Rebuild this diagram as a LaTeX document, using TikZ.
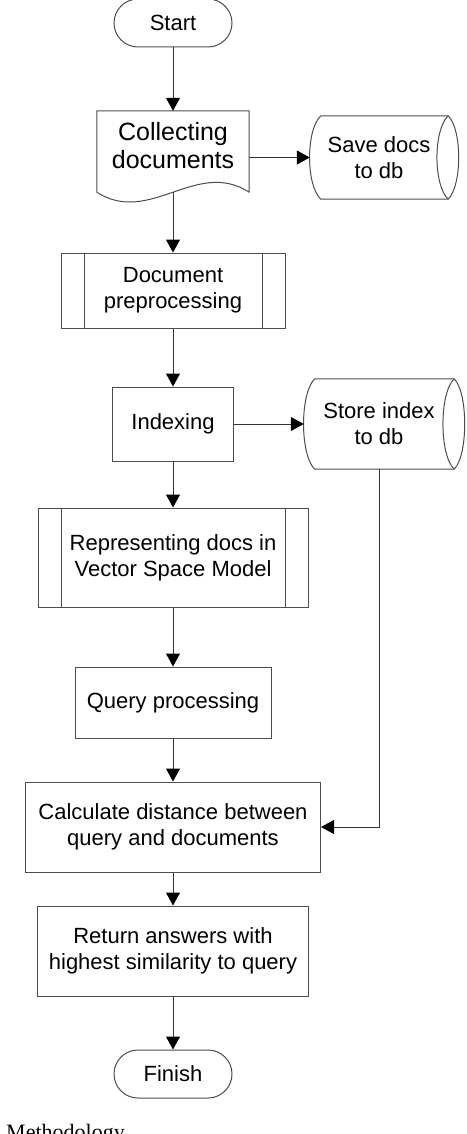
\documentclass[tikz,border=0pt]{standalone}
\usepackage{fontspec}
\setmainfont{Liberation Sans}
\newfontfamily\capfont{Liberation Serif}
\usetikzlibrary{arrows.meta}
\tikzstyle{every node}=[font=\fontsize{22}{26}\selectfont]
\tikzstyle{block}=[shape=rectangle,draw=black!70,line width=1pt,inner sep=0pt,align=center]
\tikzstyle{terminal}=[block,rounded corners=24pt,minimum width=118pt,minimum height=48pt]
\tikzstyle{plain}=[shape=rectangle,inner sep=0pt,align=center]
\tikzstyle{outline}=[draw=black!70,line width=1pt]
\tikzstyle{flow}=[draw=black!80,line width=1pt,-{Triangle[length=13pt,width=14pt,color=black,fill=black]}]

\begin{document}
\begin{tikzpicture}[x=1pt,y=-1pt]
		\useasboundingbox (0,0) rectangle (466,1134);

		% terminals
		\node[terminal] (start) at (173,23) {Start};
		\node[terminal] (finish) at (173,1074) {Finish};

		% process boxes
		\node[block,minimum width=224pt,minimum height=75pt] (prep) at (173,290.5) {Document\\preprocessing};
		\node[block,minimum width=121pt,minimum height=74pt] (index) at (173,424) {Indexing};
		\node[block,minimum width=270pt,minimum height=99pt] (vsm) at (173,557.5) {Representing docs in\\Vector Space Model};
		\node[block,minimum width=196pt,minimum height=71pt] (query) at (173,702.5) {Query processing};
		\node[block,minimum width=295pt,minimum height=90pt] (calc) at (173,827) {Calculate distance between\\query and documents};
		\node[block,minimum width=271pt,minimum height=90pt] (answer) at (173,951) {Return answers with\\highest similarity to query};

		% predefined process bars
		\foreach \p in {prep,vsm}{
			\draw[outline] ([xshift=24pt]\p.north west) -- ([xshift=24pt]\p.south west);
			\draw[outline] ([xshift=-23pt]\p.north east) -- ([xshift=-23pt]\p.south east);
		}

		% document
		\node[plain,font=\fontsize{25}{28}\selectfont,minimum width=152pt,minimum height=70pt] (collect) at (173,146) {Collecting\\documents};
		\draw[outline] ([yshift=-11pt]collect.south west) -- (collect.north west) -- (collect.north east)
			-- ([yshift=-11pt]collect.south east) .. controls +(-53,-34) and +(53,34) .. ([yshift=-11pt]collect.south west);
		\coordinate (collect-b) at ([yshift=-11pt]collect.south);

		% stored data
		\node[plain,minimum width=138pt,minimum height=83pt] (save) at (379,157.5) {Save docs\\to db};
		\node[plain,minimum width=150pt,minimum height=90pt] (store) at (379,424) {Store index\\to db};
		\foreach \s in {save,store}{
			\draw[outline] ([xshift=11pt]\s.north west) -- (\s.north east) .. controls +(14,14) and +(14,-14) .. (\s.south east)
				-- ([xshift=11pt]\s.south west) .. controls +(-15,-14) and +(-15,14) .. ([xshift=11pt]\s.north west);
			\draw[outline] (\s.north east) .. controls +(-15,14) and +(-15,-14) .. (\s.south east);
		}

		% caption
		\node[plain,font=\capfont\fontsize{22}{26}\selectfont,anchor=north east] (caption) at (125,1124) {. Methodology};

		% connectors
		\draw[flow] (start) -- (collect);
		\draw[flow] (collect.east |- save.west) -- (save.west);
		\draw[flow] (collect-b) -- (prep);
		\draw[flow] (prep) -- (index);
		\draw[flow] (index) -- (store);
		\draw[flow] (index) -- (vsm);
		\draw[flow] (vsm) -- (query);
		\draw[flow] (query) -- (calc);
		\draw[flow] (store.south) |- (calc.east);
		\draw[flow] (calc) -- (answer);
		\draw[flow] (answer) -- (finish);

\end{tikzpicture}
\end{document}
